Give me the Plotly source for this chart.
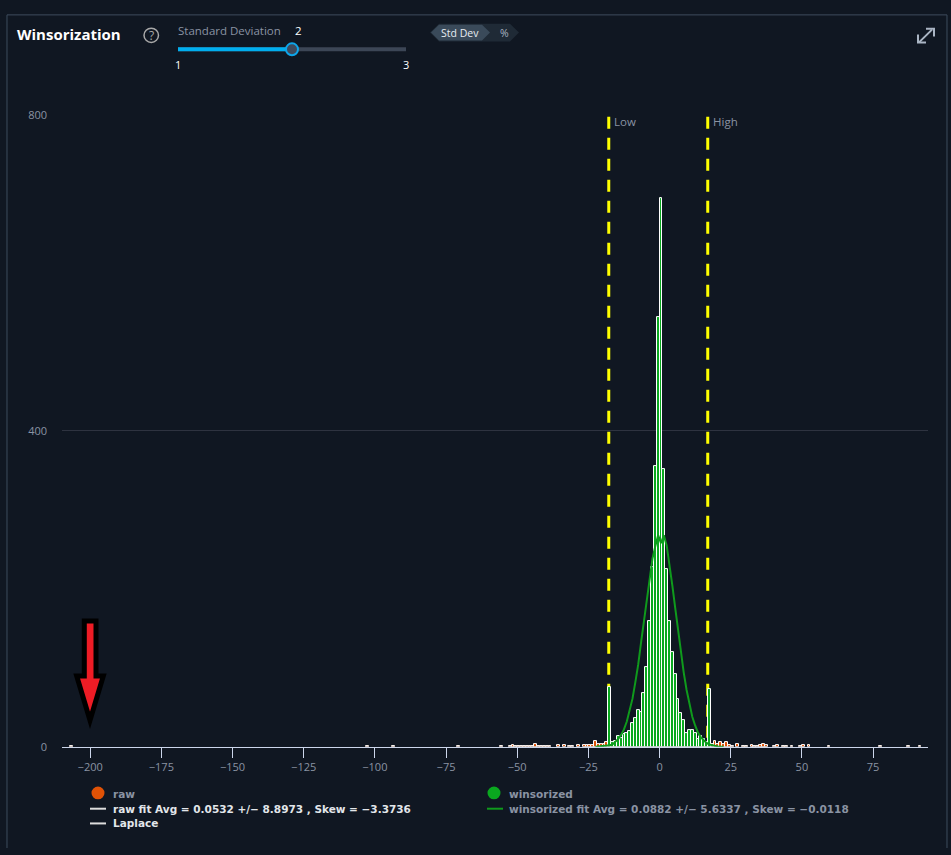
import plotly.graph_objects as go

# Histogram bins (bin width 1)
bin_centers = [-17.5, -16.5, -15.5, -14.5, -13.5, -12.5, -11.5, -10.5, -9.5, -8.5, -7.5, -6.5,
               -5.5, -4.5, -3.5, -2.5, -1.5, -0.5, 0.5, 1.5, 2.5, 3.5, 4.5, 5.5,
               6.5, 7.5, 8.5, 9.5, 10.5, 11.5, 12.5, 13.5, 14.5, 15.5, 16.5, 17.5]
winsorized_counts = [76, 6, 7.5, 13, 11, 16.6, 18, 20, 30, 36, 46, 44,
                     68, 101, 159, 228, 356, 544, 695, 352, 225, 159, 120, 92.5,
                     61, 43, 34, 17, 21.6, 21.6, 18, 9.5, 13.7, 9.5, 6, 73]

# Raw values outside the winsorized range (inside they sit behind the green bars)
raw_x = [-206.5, -102.5, -93.5, -70.5, -55.5, -52.5, -51.5, -50.5, -49.5, -48.5, -47.5, -46.5,
         -45.5, -44.5, -43.5, -42.5, -41.5, -40.5, -39.5, -38.5, -35.5, -33.5, -31.5, -30.5,
         -28.5, -26.5, -25.5, -24.5, -23.5, -22.5, -21.5, -20.5, -19.5, -18.5,
         18.5, 19.5, 20.5, 21.5, 22.5, 23.5, 24.5, 25.5, 27.5, 29.5, 30.5, 32.5,
         33.5, 34.5, 35.5, 36.5, 37.5, 40.5, 41.5, 43.5, 44.5, 46.5, 49.5, 50.5,
         52.5, 59.5, 77.5, 87.5, 91.5]
raw_counts = [1, 1, 1, 1, 1, 1, 2.5, 1, 1, 1, 1, 1,
              1, 1, 3, 1, 1, 1, 1, 1, 2.5, 2.5, 1, 1,
              2.5, 2, 2, 2, 2, 7.5, 4, 4, 4, 5.5,
              3, 7, 3, 6, 3.5, 5.5, 2, 1, 4, 1, 1, 2,
              1, 1.5, 2, 3.5, 2, 1, 2, 1, 1, 1, 1, 2,
              2, 1, 1, 1, 1]

# Winsorized fit curve
fit_x = [-22.5, -20.5, -18.5, -17.5, -16.5, -15.5, -14.5, -13.5, -12.5, -11.5, -10.5, -9.5, -8.5,
         -7.5, -6.5, -5.5, -4.5, -3.5, -2.5, -1.5, -0.5, 0.5, 1.5, 2.5, 3.5, 4.5, 5.5, 6.5,
         7.5, 8.5, 9.5, 10.5, 11.5, 12.5, 13.5, 14.5, 15.5, 16.5, 17.5, 18.5, 19.5, 20.5, 22.5]
fit_y = [0, 0.5, 1, 2, 3, 6, 10, 15, 22, 32, 45, 61, 82,
         104, 132, 158, 185, 212, 238, 254, 268, 258, 268, 255, 232, 204, 176, 148,
         120, 94, 72, 54, 38, 27, 18, 12, 8, 5, 3, 2, 1, 0.5, 0]

low_limit = -17.84
high_limit = 16.93

x_ticks = [-200, -175, -150, -125, -100, -75, -50, -25, 0, 25, 50, 75]
y_ticks = [0, 400, 800]

W, H = 951, 855
BG = '#101722'
GREY = '#8a93a3'


def px(x):
    return x / W


def py(y):
    return 1 - y / H


def box(kind, x0, y0, x1, y1, **kw):
    return dict(type=kind, xref='paper', yref='paper', x0=px(x0), x1=px(x1), y0=py(y0), y1=py(y1), **kw)


def path(points, close=True, **kw):
    d = 'M ' + ' L '.join(f'{px(a):.5f},{py(b):.5f}' for a, b in points)
    if close:
        d += ' Z'
    return dict(type='path', xref='paper', yref='paper', path=d, **kw)


def label(x, y, text, size=11, color=GREY, anchor='left', family='Open Sans'):
    return dict(xref='paper', yref='paper', x=px(x), y=py(y), text=text, showarrow=False,
                xanchor=anchor, yanchor='middle', align=anchor, borderpad=0,
                font=dict(size=size, color=color, family=family))


fig = go.Figure()
fig.add_trace(go.Bar(x=raw_x, y=raw_counts, width=1, name='raw',
                     marker=dict(color='#e05206', line=dict(color='#ffffff', width=1))))
fig.add_trace(go.Bar(x=bin_centers, y=winsorized_counts, width=1, name='winsorized',
                     marker=dict(color='#0aa81f', line=dict(color='#ffffff', width=1))))
fig.add_trace(go.Scatter(x=fit_x, y=fit_y, mode='lines', name='winsorized fit',
                         line=dict(color='#0f9a1c', width=2)))

shapes = [
    # panel border
    path([(7, 855), (7, 7), (947, 7), (947, 855)], close=False, line=dict(color='#3d4c5e', width=1)),
    # help icon
    box('circle', 144, 20.5, 158.5, 35, line=dict(color='#a8a8a8', width=1.5)),
    # slider
    box('rect', 178, 40, 406, 44, fillcolor='#3c4656', line=dict(width=0)),
    box('rect', 178, 40, 292, 44, fillcolor='#00aeef', line=dict(width=0)),
    box('circle', 286, 36, 298, 48, fillcolor='#3f4a5c', line=dict(color='#0ea5e9', width=2)),
    # std dev / % toggle
    path([(439, 16), (510, 16), (519, 25), (510, 34), (439, 34), (430, 25)],
         fillcolor='#1f2a36', line=dict(width=0)),
    path([(439, 17), (482, 17), (490, 25), (482, 33), (439, 33), (431, 25)],
         fillcolor='#3a4a5a', line=dict(width=0)),
    # expand icon
    path([(919, 35), (932, 22)], close=False, line=dict(color='#aab5c4', width=2)),
    path([(926, 21), (934, 21), (934, 29)], close=False, line=dict(color='#aab5c4', width=2)),
    path([(918, 27), (918, 35), (926, 35)], close=False, line=dict(color='#aab5c4', width=2)),
    # red arrow pointing at the far left bin
    path([(84.3, 624), (96, 624), (96, 680), (103.3, 680), (90, 725), (76.7, 680), (84.3, 680)],
         fillcolor='#ee1c25', line=dict(color='#000000', width=5)),
    # legend markers
    box('circle', 91.5, 792.5, 104.5, 805.5, fillcolor='#e05206', line=dict(width=0)),
    box('circle', 487.5, 792.5, 500.5, 805.5, fillcolor='#0aa81f', line=dict(width=0)),
    path([(90, 815), (106, 815)], close=False, line=dict(color='#dddddd', width=2)),
    path([(90, 830), (106, 830)], close=False, line=dict(color='#dddddd', width=2)),
    path([(487, 815), (503, 815)], close=False, line=dict(color='#0f9a1c', width=2)),
]
for limit in [low_limit, high_limit]:
    shapes.append(dict(type='line', xref='x', yref='y', x0=limit, x1=limit, y0=798, y1=0, layer='below',
                       line=dict(color='#ffff00', width=3, dash='12px,9px')))

annotations = [
    label(16, 26, '<b>Winsorization</b>', size=15, color='#ffffff'),
    label(151.2, 28, '?', size=12, color='#a8a8a8', anchor='center'),
    label(177, 23, 'Standard Deviation', size=11.5),
    label(294, 23, '2', size=11.5, color='#ffffff'),
    label(178, 58, '1', size=11, color='#ffffff', anchor='center'),
    label(406, 58, '3', size=11, color='#ffffff', anchor='center'),
    label(460, 25, 'Std Dev', size=10.5, color='#e8edf2', anchor='center'),
    label(504, 25, '%', size=10.5, color='#aab5c4', anchor='center'),
    label(613, 116, 'Low', size=11.5),
    label(712, 116, 'High', size=11.5),
    label(112, 800, '<b>raw</b>', size=10.5, family='DejaVu Sans'),
    label(112, 815, '<b>raw fit Avg = 0.0532 +/− 8.8973 , Skew = −3.3736</b>', size=10.5,
          color='#e2e6ea', family='DejaVu Sans'),
    label(112, 830, '<b>Laplace</b>', size=10.5, color='#e2e6ea', family='DejaVu Sans'),
    label(508, 800, '<b>winsorized</b>', size=10.5, family='DejaVu Sans'),
    label(508, 815, '<b>winsorized fit Avg = 0.0882 +/− 5.6337 , Skew = −0.0118</b>', size=10.5,
          family='DejaVu Sans'),
]

fig.update_layout(
    width=W, height=H, autosize=False, showlegend=False,
    margin=dict(l=0, r=0, t=0, b=0),
    paper_bgcolor=BG, plot_bgcolor=BG,
    barmode='overlay', bargap=0,
    shapes=shapes, annotations=annotations,
    xaxis=dict(domain=[px(62), px(928)], range=[-209.9, 94.3], tickmode='array', tickvals=x_ticks,
               showgrid=False, zeroline=False, showline=True, linecolor='#ccd6eb', linewidth=1,
               ticks='outside', ticklen=10, tickcolor='#ccd6eb', tickwidth=1,
               tickfont=dict(size=11, color=GREY, family='Open Sans')),
    yaxis=dict(domain=[py(752), py(109)], range=[0, 800], tickmode='array', tickvals=y_ticks,
               showgrid=True, gridcolor='#2e3340', gridwidth=1, zeroline=False, showline=False,
               ticks='', ticklabelstandoff=14,
               tickfont=dict(size=11, color=GREY, family='Open Sans')),
)

fig.write_html('out.html', config=dict(displayModeBar=False),
               post_script="document.body.style.margin='0';document.body.style.background='#101722';")
